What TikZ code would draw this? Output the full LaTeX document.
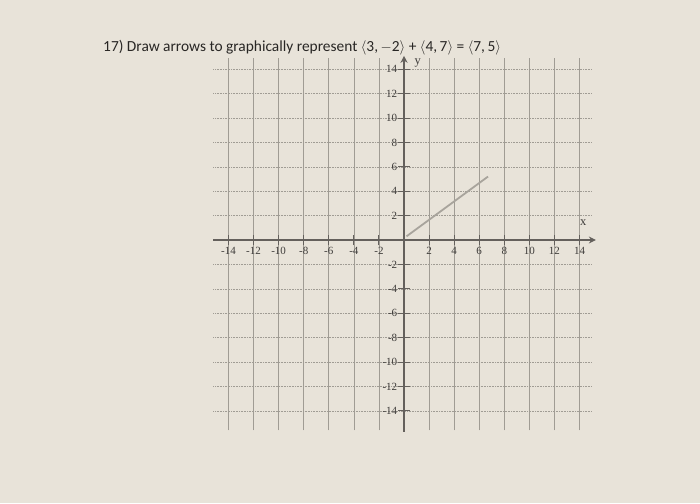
\documentclass[tikz,border=0pt]{standalone}
\usepackage{fontspec}
\setmainfont{Liberation Serif}
\newfontfamily\titlefont{Carlito}
\usetikzlibrary{arrows.meta}
\definecolor{paper}{RGB}{232,227,217}
\definecolor{ink}{RGB}{40,38,36}
\definecolor{axisgray}{RGB}{100,96,92}
\definecolor{labelgray}{RGB}{62,60,58}
\definecolor{gridgray}{RGB}{160,156,148}
\definecolor{penciled}{RGB}{168,164,156}
\def\vecpair#1#2{$\langle$#1,\,#2$\rangle$}
\tikzset{
	gridv/.style={line width=0.6pt, color=gridgray},
	gridh/.style={line width=0.6pt, color=gridgray, densely dotted},
	axisline/.style={line width=1.7pt, color=axisgray},
	tickline/.style={line width=0.9pt, color=axisgray},
	ticklabel/.style={inner sep=1pt, text=labelgray, font=\fontsize{11}{12}\selectfont},
}
\begin{document}
\begin{tikzpicture}[x=1pt, y=-1pt]
			%%%%% START %%%%%
			
			\fill[paper] (0,0) rectangle (700,503);
			\useasboundingbox (0,0) rectangle (700,503);
			
			\node[anchor=west, inner sep=0pt, text=ink, font=\titlefont\fontsize{15.4}{18}\selectfont] (title) at (103,48)
				{17) Draw arrows to graphically represent \vecpair{3}{$-$2} + \vecpair{4}{7} = \vecpair{7}{5}};
			
			\begin{scope}[shift={(404,240)}, x=12.54pt, y=12.2pt]
				% grid
				\foreach \k in {-14,-12,...,-2,2,4,...,14} {
					\draw[gridv] (\k,-15.6) -- (\k,14.9);
					\draw[gridh] (-15.2,\k) -- (15,\k);
				}
				
				% axes
				\draw[axisline, -{Stealth[length=7pt, width=7pt]}] (-15.2,0) -- (15.3,0);
				\draw[axisline, -{Stealth[length=7pt, width=7pt]}] (0,-15.7) -- (0,15.1);
				
				\foreach \k in {-14,-12,...,-2,2,4,...,14} {
					\draw[tickline] (\k,-0.45) -- (\k,0.45);
					\draw[tickline] (-0.45,\k) -- (0.45,\k);
					\node[ticklabel, anchor=north] (xt\k) at (\k,-0.5) {\k};
					\node[ticklabel, anchor=east] (yt\k) at (-0.45,\k) {\k};
				}
				
				\node[ticklabel, font=\fontsize{12.5}{13}\selectfont] (xname) at (14.3,1.4) {x};
				\node[ticklabel, font=\fontsize{12.5}{13}\selectfont] (yname) at (1.1,14.5) {y};
				
				% pencilled answer
				\coordinate (tail) at (0.2,0.3);
				\coordinate (head) at (6.7,5.2);
				\draw[line width=1.8pt, color=penciled] (tail) -- (head);
			\end{scope}
			
			%%%%% END %%%%%
\end{tikzpicture}
\end{document}
